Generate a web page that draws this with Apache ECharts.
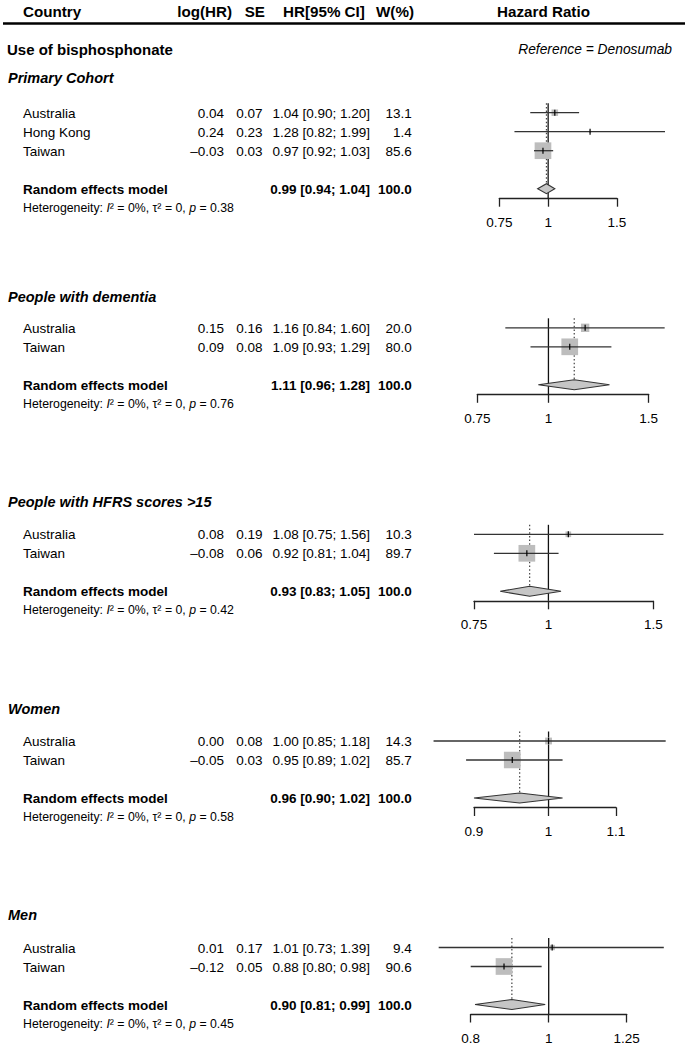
<!DOCTYPE html>
<html><head><meta charset="utf-8">
<script src="https://cdn.jsdelivr.net/npm/echarts@6/dist/echarts.min.js"></script>
<style>html,body{margin:0;padding:0;background:#fff}#c{width:685px;height:1045px}</style>
</head><body><div id="c"></div>
<script>
// ---------------- DATA ----------------
const headerLabels = ['Country', 'log(HR)', 'SE', 'HR[95% CI]', 'W(%)', 'Hazard Ratio'];
const groupTitle = 'Use of bisphosphonate';
const referenceNote = 'Reference = Denosumab';
const panelTitles = ['Primary Cohort', 'People with dementia', 'People with HFRS scores >15', 'Women', 'Men'];
const studyNames = [['Australia', 'Hong Kong', 'Taiwan'], ['Australia', 'Taiwan'], ['Australia', 'Taiwan'], ['Australia', 'Taiwan'], ['Australia', 'Taiwan']];
const logHR = [[0.04, 0.24, -0.03], [0.15, 0.09], [0.08, -0.08], [0.00, -0.05], [0.01, -0.12]];
const seLog = [[0.07, 0.23, 0.03], [0.16, 0.08], [0.19, 0.06], [0.08, 0.03], [0.17, 0.05]];
const hr = [[1.04, 1.28, 0.97], [1.16, 1.09], [1.08, 0.92], [1.00, 0.95], [1.01, 0.88]];
const ciLow = [[0.90, 0.82, 0.92], [0.84, 0.93], [0.75, 0.81], [0.85, 0.89], [0.73, 0.80]];
const ciHigh = [[1.20, 1.99, 1.03], [1.60, 1.29], [1.56, 1.04], [1.18, 1.02], [1.39, 0.98]];
const weightPct = [[13.1, 1.4, 85.6], [20.0, 80.0], [10.3, 89.7], [14.3, 85.7], [9.4, 90.6]];
const modelName = 'Random effects model';
const pooledHR = [0.99, 1.11, 0.93, 0.96, 0.90];
const pooledLow = [0.94, 0.96, 0.83, 0.90, 0.81];
const pooledHigh = [1.04, 1.28, 1.05, 1.02, 0.99];
const pooledWeight = [100.0, 100.0, 100.0, 100.0, 100.0];
const hetI2 = ['0%', '0%', '0%', '0%', '0%'];
const hetTau2 = ['0', '0', '0', '0', '0'];
const hetP = ['0.38', '0.76', '0.42', '0.58', '0.45'];
const tickValues = [[0.75, 1, 1.5], [0.75, 1, 1.5], [0.75, 1, 1.5], [0.9, 1, 1.1], [0.8, 1, 1.25]];
const tickLabels = [['0.75', '1', '1.5'], ['0.75', '1', '1.5'], ['0.75', '1', '1.5'], ['0.9', '1', '1.1'], ['0.8', '1', '1.25']];
const refValue = 1;

// ---------------- LAYOUT ----------------
const FONT = "'Liberation Sans', Arial, Helvetica, sans-serif";
const ROW = 19;
const layout = [
  { left: 499.3, width: 117.7, row1: 112.7, title: 78 },
  { left: 477.3, width: 171.4, row1: 327.8, title: 296.5 },
  { left: 474.0, width: 179.3, row1: 534.3, title: 502 },
  { left: 474.0, width: 142.0, row1: 741.0, title: 709 },
  { left: 470.7, width: 156.0, row1: 947.5, title: 915 }
];
const col = { label: 23, logHR: 224, se: 262.5, hr: 370, w: 411.7 };
const LINE = '#333333';

const fmt2 = v => (v < 0 ? '\u2013' : '') + Math.abs(v).toFixed(2);
const ciText = (e, l, h) => e.toFixed(2) + ' [' + l.toFixed(2) + '; ' + h.toFixed(2) + ']';

function txt(x, y, text, opts) {
  opts = opts || {};
  return {
    type: 'text', x: x, y: y, silent: true,
    style: {
      text: text, fill: '#000', align: opts.align || 'left', verticalAlign: 'middle',
      fontFamily: FONT, fontSize: opts.size || 13.5, fontWeight: opts.weight || 'normal',
      fontStyle: opts.style || 'normal', rich: opts.rich
    }
  };
}

const graphic = [];
// header
graphic.push(txt(23, 11.7, headerLabels[0], { size: 15.2, weight: 'bold' }));
graphic.push(txt(232, 11.7, headerLabels[1], { size: 15.2, weight: 'bold', align: 'right' }));
graphic.push(txt(265, 11.7, headerLabels[2], { size: 15.2, weight: 'bold', align: 'right' }));
graphic.push(txt(283, 11.7, headerLabels[3], { size: 15.2, weight: 'bold' }));
graphic.push(txt(376, 11.7, headerLabels[4], { size: 15.2, weight: 'bold' }));
graphic.push(txt(543.5, 11.7, headerLabels[5], { size: 15.2, weight: 'bold', align: 'center' }));
graphic.push({ type: 'line', silent: true, shape: { x1: 3, y1: 23.5, x2: 685, y2: 23.5 }, style: { stroke: '#000', lineWidth: 2.4 } });
graphic.push(txt(7, 49.5, groupTitle, { size: 15, weight: 'bold' }));
graphic.push(txt(672, 49.5, referenceNote, { size: 13.8, style: 'italic', align: 'right' }));

const grids = [], xAxes = [], yAxes = [], series = [];

panelTitles.forEach((title, p) => {
  const L = layout[p];
  const n = studyNames[p].length;
  const reRow = n + 2;
  const yOf = r => L.row1 + (r - 1) * ROW;

  graphic.push(txt(8, L.title, title, { size: 14.5, weight: 'bold', style: 'italic' }));
  studyNames[p].forEach((nm, j) => {
    const y = yOf(j + 1) + 0.5;
    graphic.push(txt(col.label, y, nm));
    graphic.push(txt(col.logHR, y, fmt2(logHR[p][j]), { align: 'right' }));
    graphic.push(txt(col.se, y, seLog[p][j].toFixed(2), { align: 'right' }));
    graphic.push(txt(col.hr, y, ciText(hr[p][j], ciLow[p][j], ciHigh[p][j]), { align: 'right' }));
    graphic.push(txt(col.w, y, weightPct[p][j].toFixed(1), { align: 'right' }));
  });
  const yRE = yOf(reRow) + 0.5;
  graphic.push(txt(col.label, yRE, modelName, { weight: 'bold' }));
  graphic.push(txt(col.hr, yRE, ciText(pooledHR[p], pooledLow[p], pooledHigh[p]), { weight: 'bold', align: 'right' }));
  graphic.push(txt(col.w, yRE, pooledWeight[p].toFixed(1), { weight: 'bold', align: 'right' }));
  graphic.push(txt(col.label, yRE + 18.5,
    '{t|Heterogeneity: }{i|I}{t|\u00b2 = ' + hetI2[p] + ', \u03c4\u00b2 = ' + hetTau2[p] + ', }{i|p}{t| = ' + hetP[p] + '}',
    { size: 12.3, rich: {
      t: { fontFamily: FONT, fontSize: 12.3, fill: '#000' },
      i: { fontFamily: FONT, fontSize: 12.3, fontStyle: 'italic', fill: '#000' }
    } }));

  grids.push({ left: L.left, width: L.width, top: L.row1 - ROW / 2, height: (n + 2) * ROW, containLabel: false });
  const tv = tickValues[p], tl = tickLabels[p];
  xAxes.push({
    gridIndex: p, type: 'log', logBase: 10, min: tv[0], max: tv[tv.length - 1], position: 'bottom',
    axisLine: { show: true, onZero: false, lineStyle: { color: '#222', width: 1.3 } },
    axisTick: { show: true, customValues: tv, length: 8.5, lineStyle: { color: '#222', width: 1.3 } },
    axisLabel: {
      show: true, customValues: tv, margin: 17, color: '#000', fontFamily: FONT, fontSize: 13.5,
      formatter: v => { let b = 0; tv.forEach((t, k) => { if (Math.abs(t - v) < Math.abs(tv[b] - v)) b = k; }); return tl[b]; }
    },
    splitLine: { show: false }, minorTick: { show: false }
  });
  yAxes.push({ gridIndex: p, type: 'value', min: 0.5, max: n + 2.5, inverse: true, show: false });

  // reference line at 1 and dotted line at pooled estimate
  series.push({
    type: 'custom', xAxisIndex: p, yAxisIndex: p, silent: true, clip: false, z: 1,
    data: [[refValue, pooledHR[p]]],
    renderItem: (params, api) => {
      const top = api.coord([api.value(0), 0.5]);
      const bot = api.coord([api.value(0), n + 2.5]);
      const dTop = api.coord([api.value(1), 0.5]);
      const dBot = api.coord([api.value(1), reRow]);
      return { type: 'group', children: [
        { type: 'line', shape: { x1: dTop[0], y1: dTop[1], x2: dBot[0], y2: dBot[1] - 5 }, style: { stroke: '#444', lineWidth: 1.2, lineDash: [1.5, 2.2] } },
        { type: 'line', shape: { x1: top[0], y1: top[1], x2: bot[0], y2: bot[1] }, style: { stroke: '#111', lineWidth: 1.3 } }
      ] };
    }
  });
  // study squares and CIs
  const maxW = Math.max.apply(null, weightPct[p]);
  series.push({
    type: 'custom', xAxisIndex: p, yAxisIndex: p, silent: true, clip: false, z: 2,
    data: studyNames[p].map((nm, j) => [ciLow[p][j], ciHigh[p][j], hr[p][j], weightPct[p][j], j + 1]),
    renderItem: (params, api) => {
      const r = api.value(4);
      const lo = api.coord([api.value(0), r]);
      const hi = api.coord([api.value(1), r]);
      const c = api.coord([api.value(2), r]);
      const s = 16.7 * Math.sqrt(api.value(3) / maxW);
      return { type: 'group', children: [
        { type: 'rect', shape: { x: c[0] - s / 2, y: c[1] - s / 2, width: s, height: s }, style: { fill: '#bdbdbd' } },
        { type: 'line', shape: { x1: lo[0], y1: lo[1], x2: hi[0], y2: hi[1] }, style: { stroke: LINE, lineWidth: 1.3 } },
        { type: 'line', shape: { x1: c[0], y1: c[1] - 3, x2: c[0], y2: c[1] + 3 }, style: { stroke: '#000', lineWidth: 1.2 } }
      ] };
    }
  });
  // pooled diamond
  series.push({
    type: 'custom', xAxisIndex: p, yAxisIndex: p, silent: true, clip: false, z: 3,
    data: [[pooledLow[p], pooledHigh[p], pooledHR[p], reRow]],
    renderItem: (params, api) => {
      const r = api.value(3);
      const lo = api.coord([api.value(0), r]);
      const hi = api.coord([api.value(1), r]);
      const c = api.coord([api.value(2), r]);
      return { type: 'polygon', shape: { points: [[lo[0], lo[1]], [c[0], c[1] - 5], [hi[0], hi[1]], [c[0], c[1] + 5]] },
        style: { fill: '#c6c6c6', stroke: '#333', lineWidth: 1.1 } };
    }
  });
});

const chart = echarts.init(document.getElementById('c'), null, { renderer: 'svg' });
chart.setOption({
  animation: false,
  backgroundColor: '#fff',
  grid: grids, xAxis: xAxes, yAxis: yAxes, series: series, graphic: graphic
});
</script></body></html>
